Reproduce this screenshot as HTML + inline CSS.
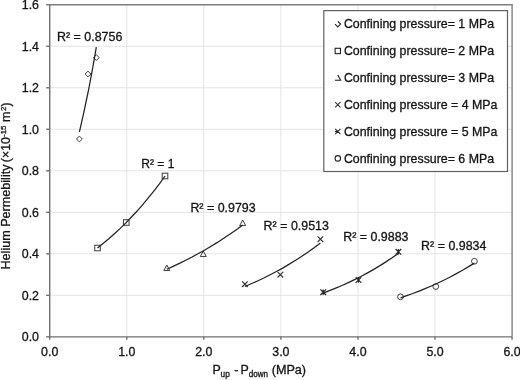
<!DOCTYPE html>
<html><head><meta charset="utf-8"><title>Helium Permeability</title>
<style>
html,body{margin:0;padding:0;background:#fff;}
svg{display:block}
text{font-family:"Liberation Sans",sans-serif;fill:#141414;stroke:#141414;stroke-width:0.3px;}
</style></head><body>
<svg width="520" height="380" viewBox="0 0 520 380">
<rect width="520" height="380" fill="#fff"/>
<g stroke="#e4e4e4" stroke-width="1"><line x1="126.76666666666668" y1="4.75" x2="126.76666666666668" y2="336.85"/><line x1="203.83333333333337" y1="4.75" x2="203.83333333333337" y2="336.85"/><line x1="280.90000000000003" y1="4.75" x2="280.90000000000003" y2="336.85"/><line x1="357.9666666666667" y1="4.75" x2="357.9666666666667" y2="336.85"/><line x1="435.03333333333336" y1="4.75" x2="435.03333333333336" y2="336.85"/><line x1="49.7" y1="295.34" x2="512.1" y2="295.34"/><line x1="49.7" y1="253.83" x2="512.1" y2="253.83"/><line x1="49.7" y1="212.31" x2="512.1" y2="212.31"/><line x1="49.7" y1="170.80" x2="512.1" y2="170.80"/><line x1="49.7" y1="129.29" x2="512.1" y2="129.29"/><line x1="49.7" y1="87.77" x2="512.1" y2="87.77"/><line x1="49.7" y1="46.26" x2="512.1" y2="46.26"/></g>
<path d="M49.7 4.75H512.1V336.85" fill="none" stroke="#808080" stroke-width="1.4"/>
<path d="M49.7 4.75V336.85H512.1" fill="none" stroke="#707070" stroke-width="1.4"/>
<g stroke="#707070" stroke-width="1.4"><line x1="49.7" y1="336.85" x2="49.7" y2="339.85"/><line x1="126.76666666666668" y1="336.85" x2="126.76666666666668" y2="339.85"/><line x1="203.83333333333337" y1="336.85" x2="203.83333333333337" y2="339.85"/><line x1="280.90000000000003" y1="336.85" x2="280.90000000000003" y2="339.85"/><line x1="357.9666666666667" y1="336.85" x2="357.9666666666667" y2="339.85"/><line x1="435.03333333333336" y1="336.85" x2="435.03333333333336" y2="339.85"/><line x1="512.1000000000001" y1="336.85" x2="512.1000000000001" y2="339.85"/><line x1="46.2" y1="336.85" x2="49.7" y2="336.85"/><line x1="46.2" y1="295.34" x2="49.7" y2="295.34"/><line x1="46.2" y1="253.83" x2="49.7" y2="253.83"/><line x1="46.2" y1="212.31" x2="49.7" y2="212.31"/><line x1="46.2" y1="170.80" x2="49.7" y2="170.80"/><line x1="46.2" y1="129.29" x2="49.7" y2="129.29"/><line x1="46.2" y1="87.77" x2="49.7" y2="87.77"/><line x1="46.2" y1="46.26" x2="49.7" y2="46.26"/><line x1="46.2" y1="4.75" x2="49.7" y2="4.75"/></g>
<g font-size="12.4"><text x="49.7" y="356.1" text-anchor="middle">0.0</text><text x="126.76666666666668" y="356.1" text-anchor="middle">1.0</text><text x="203.83333333333337" y="356.1" text-anchor="middle">2.0</text><text x="280.90000000000003" y="356.1" text-anchor="middle">3.0</text><text x="357.9666666666667" y="356.1" text-anchor="middle">4.0</text><text x="435.03333333333336" y="356.1" text-anchor="middle">5.0</text><text x="512.1000000000001" y="356.1" text-anchor="middle">6.0</text><text x="39" y="341.15" text-anchor="end">0.0</text><text x="39" y="299.64" text-anchor="end">0.2</text><text x="39" y="258.12" text-anchor="end">0.4</text><text x="39" y="216.61" text-anchor="end">0.6</text><text x="39" y="175.10" text-anchor="end">0.8</text><text x="39" y="133.59" text-anchor="end">1.0</text><text x="39" y="92.07" text-anchor="end">1.2</text><text x="39" y="50.56" text-anchor="end">1.4</text><text x="39" y="9.05" text-anchor="end">1.6</text></g>
<g stroke="#3c3c3c" stroke-width="1"><path d="M76.50 139L79.4 136.10L82.30 139L79.4 141.90Z" fill="none"/><path d="M85.10 74L88 71.10L90.90 74L88 76.90Z" fill="none"/><path d="M93.40 57.6L96.3 54.70L99.20 57.6L96.3 60.50Z" fill="none"/><rect x="94.70" y="245.20" width="5.60" height="5.60" fill="none"/><rect x="123.45" y="219.70" width="5.60" height="5.60" fill="none"/><rect x="162.20" y="173.20" width="5.60" height="5.60" fill="none"/><path d="M163.80 270.55L166.8 265.00L169.80 270.55Z" fill="none"/><path d="M200.30 256.55L203.3 251.00L206.30 256.55Z" fill="none"/><path d="M239.70 225.55L242.7 220.00L245.70 225.55Z" fill="none"/><path d="M242.10 281.40L247.70 287.00M242.10 287.00L247.70 281.40" fill="none" stroke="#333" stroke-width="1.1"/><path d="M277.60 271.90L283.20 277.50M277.60 277.50L283.20 271.90" fill="none" stroke="#333" stroke-width="1.1"/><path d="M317.60 236.40L323.20 242.00M317.60 242.00L323.20 236.40" fill="none" stroke="#333" stroke-width="1.1"/><path d="M320.40 289.40L326.00 295.00M320.40 295.00L326.00 289.40M323.2 289.40V295.00" fill="none" stroke="#222" stroke-width="1.15"/><path d="M355.70 277.20L361.30 282.80M355.70 282.80L361.30 277.20M358.5 277.20V282.80" fill="none" stroke="#222" stroke-width="1.15"/><path d="M395.60 249.00L401.20 254.60M395.60 254.60L401.20 249.00M398.4 249.00V254.60" fill="none" stroke="#222" stroke-width="1.15"/><circle cx="400.5" cy="296.8" r="2.90" fill="none"/><circle cx="435.8" cy="286.5" r="2.90" fill="none"/><circle cx="474.4" cy="261.3" r="2.90" fill="none"/></g>
<g fill="none" stroke="#222" stroke-width="1.25" stroke-linejoin="round"><path d="M79.4 131.8L80.8 125.8L82.2 119.7L83.6 113.3L85.0 106.8L86.4 100.0L87.9 93.1L89.3 86.0L90.7 78.7L92.1 71.1L93.5 63.3L94.9 55.3L96.3 47.1"/><path d="M97.5 248.0L103.1 243.5L108.8 238.8L114.4 233.8L120.0 228.6L125.6 223.1L131.2 217.3L136.9 211.3L142.5 204.9L148.1 198.2L153.8 191.2L159.4 183.8L165.0 176.0"/><path d="M166.8 269.3L173.1 266.4L179.4 263.4L185.8 260.3L192.1 257.0L198.4 253.5L204.8 250.0L211.1 246.2L217.4 242.4L223.7 238.3L230.1 234.1L236.4 229.7L242.7 225.1"/><path d="M244.9 286.5L251.2 283.8L257.5 281.0L263.8 278.0L270.1 274.8L276.4 271.5L282.7 268.1L288.9 264.4L295.2 260.5L301.5 256.5L307.8 252.2L314.1 247.7L320.4 242.9"/><path d="M323.2 293.2L329.5 290.7L335.7 288.2L342.0 285.5L348.3 282.6L354.5 279.6L360.8 276.5L367.1 273.1L373.3 269.6L379.6 265.9L385.9 261.9L392.1 257.8L398.4 253.4"/><path d="M400.5 297.8L406.7 295.7L412.8 293.5L419.0 291.1L425.1 288.6L431.3 286.0L437.4 283.2L443.6 280.3L449.8 277.2L455.9 273.9L462.1 270.5L468.2 266.9L474.4 263.1"/></g>
<g font-size="12.4"><text x="57.0" y="40.9" textLength="65.3" lengthAdjust="spacingAndGlyphs">R² = 0.8756</text><text x="141.2" y="167.9" textLength="33.2" lengthAdjust="spacingAndGlyphs">R² = 1</text><text x="190.4" y="212.2" textLength="65.3" lengthAdjust="spacingAndGlyphs">R² = 0.9793</text><text x="263.6" y="229.8" textLength="65.3" lengthAdjust="spacingAndGlyphs">R² = 0.9513</text><text x="343.2" y="241.1" textLength="65.3" lengthAdjust="spacingAndGlyphs">R² = 0.9883</text><text x="421.1" y="249.6" textLength="65.3" lengthAdjust="spacingAndGlyphs">R² = 0.9834</text></g>
<rect x="323.8" y="10.6" width="183.7" height="160.9" fill="#fff" stroke="#606060" stroke-width="1.2"/>
<g stroke="#222" stroke-width="1.1"><path d="M337.8 21.3L340.6 24.1L337.8 26.900000000000002L335.0 24.1" fill="none"/><rect x="335.14" y="48.30" width="5.32" height="5.32" fill="none"/><path d="M337.8 74.92L340.7 80.29L334.90000000000003 80.29" fill="none"/><path d="M335.14 102.02L340.46 107.34M335.14 107.34L340.46 102.02" fill="none" stroke="#333" stroke-width="1.1"/><path d="M335.2 128.94L340.40000000000003 134.14M335.2 134.14L340.40000000000003 128.94M334.9 131.54H337.8" fill="none"/><circle cx="337.8" cy="158.4" r="2.75" fill="none"/></g>
<g font-size="12.4"><text x="343.9" y="28.20" textLength="150.2" lengthAdjust="spacingAndGlyphs">Confining pressure= 1 MPa</text><text x="343.9" y="55.06" textLength="150.2" lengthAdjust="spacingAndGlyphs">Confining pressure= 2 MPa</text><text x="343.9" y="81.92" textLength="150.2" lengthAdjust="spacingAndGlyphs">Confining pressure= 3 MPa</text><text x="343.9" y="108.78" textLength="153.5" lengthAdjust="spacingAndGlyphs">Confining pressure = 4 MPa</text><text x="343.9" y="135.64" textLength="153.5" lengthAdjust="spacingAndGlyphs">Confining pressure = 5 MPa</text><text x="343.9" y="162.50" textLength="150.2" lengthAdjust="spacingAndGlyphs">Confining pressure= 6 MPa</text></g>
<g font-size="12.4"><text x="212.5" y="374.3">P</text><text x="220.6" y="377.4" font-size="8.3" textLength="9.2" lengthAdjust="spacingAndGlyphs">up</text><text x="234.2" y="374.3">-</text><text x="240.5" y="374.3">P</text><text x="248.7" y="377.4" font-size="8.3" textLength="19.4" lengthAdjust="spacingAndGlyphs">down</text><text x="271.7" y="374.3" textLength="34.4" lengthAdjust="spacingAndGlyphs">(MPa)</text></g>
<g font-size="12.4" transform="translate(10.3 269.5) rotate(-90)"><text x="0" y="0" textLength="105" lengthAdjust="spacingAndGlyphs">Helium Permebility</text><text x="107.3" y="0">(×10</text><text x="132.5" y="-4.5" font-size="8">-15</text><text x="147.6" y="0">m</text><text x="158.6" y="-4.7" font-size="8">2</text><text x="163.0" y="0">)</text></g>
</svg>
</body></html>
